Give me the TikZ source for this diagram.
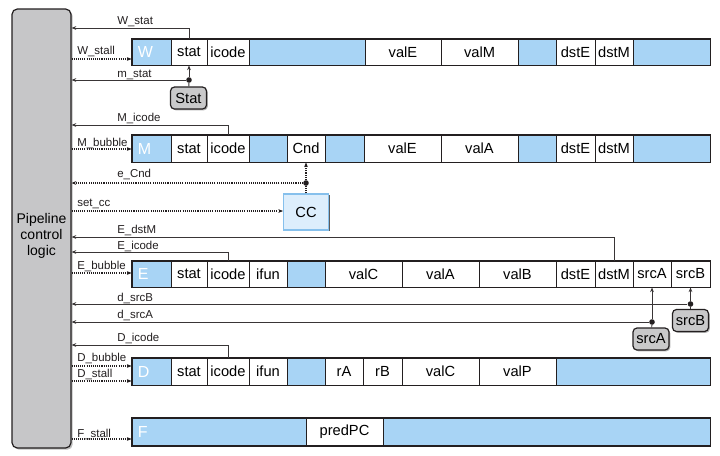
\documentclass[tikz,border=0pt]{standalone}
\usepackage{fontspec}
\setmainfont{Liberation Sans}
\usetikzlibrary{positioning,shadows,arrows.meta}

\definecolor{regblue}{HTML}{A8D4F5}
\definecolor{ccblue}{HTML}{DDEEFC}
\definecolor{ccedge}{HTML}{86C0EC}
\definecolor{ctlgray}{HTML}{C6C6C8}
\definecolor{unitgray}{HTML}{C9C9CA}
\definecolor{ink}{HTML}{231F20}

\tikzset{
  cell/.style={draw=ink, line width=0.7pt, inner sep=0pt, font=\fontsize{11}{13}\selectfont},
  lbl/.style={cell, fill=white},
  fld/.style={cell, fill=regblue},
  stg/.style={cell, fill=regblue},
  stgname/.style={inner sep=0pt, text=white, font=\fontsize{12}{13}\selectfont},
  regedge/.style={draw=ink, line width=1.4pt},
  ctl/.style={draw=ink, line width=0.9pt, fill=ctlgray, rounded corners=4pt,
    minimum width=44.25pt, minimum height=329.25pt, inner sep=0pt,
    drop shadow={shadow xshift=1.3pt, shadow yshift=-1.3pt, fill=black, opacity=0.25}},
  ctltext/.style={align=center, font=\fontsize{10.5}{12}\selectfont, inner sep=0pt},
  unit/.style={draw=ink, line width=0.9pt, fill=unitgray, rounded corners=3pt,
    minimum width=27pt, minimum height=16.5pt, inner sep=1pt, font=\fontsize{11}{13}\selectfont,
    drop shadow={shadow xshift=1pt, shadow yshift=-1pt, fill=black, opacity=0.3}},
  ccbox/.style={draw=ccedge, line width=0.8pt, fill=ccblue, minimum width=33.75pt,
    minimum height=27pt, inner sep=0pt, font=\fontsize{11}{13}\selectfont,
    drop shadow={shadow xshift=1pt, shadow yshift=-1pt, fill=black!80, opacity=0.8}},
  wire/.style={draw=ink!90, line width=0.7pt},
  ctrl/.style={draw=ink, line width=0.8pt, dash pattern=on 0.8pt off 0.8pt},
  dot/.style={circle, fill=ink, inner sep=0pt, minimum size=4.2pt},
  sig/.style={anchor=base west, inner sep=0pt, font=\fontsize{8.6}{10}\selectfont, text=ink},
}

\begin{document}
\begin{tikzpicture}[x=0.75pt, y=-0.75pt, >={Stealth[length=3.5pt,width=2.8pt]}]
\useasboundingbox (0,0) rectangle (720,455);

% control logic
\node[ctl] (ctl) at (41.5,228.5) {};
\node[ctltext] (ctl-text) at (41.5,236) {Pipeline\\control\\logic};

% pipeline registers
\foreach \l/\r/\t/\s [count=\i] in {132/171//stg, 171/207/stat/lbl, 207/249/icode/lbl,
    249/365//fld, 365/441/valE/lbl, 441/518/valM/lbl, 518/556//fld, 556/595/dstE/lbl,
    595/633/dstM/lbl, 633/710//fld}
  \node[\s, minimum width={(\r-\l)*0.75pt}, minimum height=19.5pt] (W-\i) at ({(\l+\r)/2},52) {\t};

\foreach \l/\r/\t/\s [count=\i] in {132/171//stg, 171/207/stat/lbl, 207/249/icode/lbl,
    249/287//fld, 287/325/Cnd/lbl, 325/364//fld, 364/441/valE/lbl, 441/518/valA/lbl,
    518/556//fld, 556/595/dstE/lbl, 595/633/dstM/lbl, 633/710//fld}
  \node[\s, minimum width={(\r-\l)*0.75pt}, minimum height=20.25pt] (M-\i) at ({(\l+\r)/2},148.5) {\t};

\foreach \l/\r/\t/\s [count=\i] in {132/171//stg, 171/207/stat/lbl, 207/249/icode/lbl,
    249/287/ifun/lbl, 287/325//fld, 325/402/valC/lbl, 402/479/valA/lbl, 479/556/valB/lbl,
    556/595/dstE/lbl, 595/633/dstM/lbl, 633/671/srcA/lbl, 671/710/srcB/lbl}
  \node[\s, minimum width={(\r-\l)*0.75pt}, minimum height=19.5pt] (E-\i) at ({(\l+\r)/2},274) {\t};

\foreach \l/\r/\t/\s [count=\i] in {132/171//stg, 171/207/stat/lbl, 207/249/icode/lbl,
    249/287/ifun/lbl, 287/325//fld, 325/363/rA/lbl, 363/402/rB/lbl, 402/479/valC/lbl,
    479/556/valP/lbl, 556/710//fld}
  \node[\s, minimum width={(\r-\l)*0.75pt}, minimum height=20.25pt] (D-\i) at ({(\l+\r)/2},371.5) {\t};

\foreach \l/\r/\t/\s [count=\i] in {132/306//stg, 306/383/predPC/lbl, 383/710//fld}
  \node[\s, minimum width={(\r-\l)*0.75pt}, minimum height=20.25pt] (F-\i) at ({(\l+\r)/2},432) {\t};

\draw[regedge] (W-1.north west) rectangle (W-10.south east);
\draw[regedge] (M-1.north west) rectangle (M-12.south east);
\draw[regedge] (E-1.north west) rectangle (E-12.south east);
\draw[regedge] (D-1.north west) rectangle (D-10.south east);
\draw[regedge] (F-1.north west) rectangle (F-3.south east);

\foreach \r in {W,M,E,D,F}
  \node[stgname, right=4.5pt of \r-1.west] (\r-name) {\r};

% status, condition codes, source ids
\node[dot] (m-dot) at (W-2.south |- 0,80) {};
\node[unit] (stat) at (188.5,98) {Stat};
\node[dot] (e-dot) at (M-5.south |- 0,183) {};
\node[ccbox] (cc) at (306,212) {CC};
\node[dot] (b-dot) at (E-12.south |- 0,304) {};
\node[unit] (srcB) at (690.5,320.5) {srcB};
\node[dot] (a-dot) at (E-11.south |- 0,322) {};
\node[unit] (srcA) at (651,339) {srcA};

% signals into control logic
\draw[wire,->] (W-2.north) |- (ctl.east |- 0,28);
\draw[wire] (stat) -- (m-dot);
\draw[wire,->] (m-dot) -- (W-2.south);
\draw[wire,->] (m-dot) -- (ctl.east |- m-dot);
\draw[wire,->] (M-3.north) |- (ctl.east |- 0,125);
\draw[ctrl] (cc) -- (e-dot);
\draw[ctrl,->] (e-dot) -- (M-5.south);
\draw[ctrl,->] (e-dot) -- (ctl.east |- e-dot);
\draw[wire,->] (E-10.north) |- (ctl.east |- 0,237);
\draw[wire,->] (E-3.north) |- (ctl.east |- 0,252);
\draw[wire] (srcB) -- (b-dot);
\draw[wire,->] (b-dot) -- (E-12.south);
\draw[wire,->] (b-dot) -- (ctl.east |- b-dot);
\draw[wire] (srcA) -- (a-dot);
\draw[wire,->] (a-dot) -- (E-11.south);
\draw[wire,->] (a-dot) -- (ctl.east |- a-dot);
\draw[wire,->] (D-3.north) |- (ctl.east |- 0,345);

% control signals out
\draw[ctrl,->] (ctl.east |- 0,211) -- (cc.west |- 0,211);
\foreach \r/\y in {W/59, M/149, E/273, D/366, D/381, F/439}
  \draw[ctrl,->] (ctl.east |- 0,\y) -- (\r-1.west |- 0,\y);

% signal names
\foreach \x/\y/\t [count=\k] in {117/20/W\_stat, 77/50/W\_stall, 117/73/m\_stat,
    117/117/M\_icode, 77/142/M\_bubble, 117/173/e\_Cnd, 77/202/set\_cc,
    117/229/E\_dstM, 117/245/E\_icode, 77/265/E\_bubble, 117/297/d\_srcB,
    117/314/d\_srcA, 117/337/D\_icode, 77/357/D\_bubble, 77/373/D\_stall, 77/433/F\_stall}
  \node[sig] (sig-\k) at (\x,\y+4.5) {\t};

\end{tikzpicture}
\end{document}
